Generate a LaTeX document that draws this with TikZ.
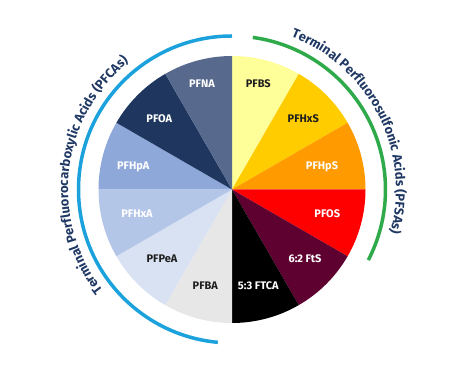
\documentclass[tikz,border=0pt]{standalone}
\usepackage{fontspec}
\setmainfont{Fira Sans}
\usetikzlibrary{decorations.text}
\definecolor{cNA}{HTML}{576A8E}
\definecolor{cOA}{HTML}{1F375F}
\definecolor{cHpA}{HTML}{8EA8DA}
\definecolor{cHxA}{HTML}{B4C6E7}
\definecolor{cPeA}{HTML}{D9E2F3}
\definecolor{cBA}{HTML}{E7E7E7}
\definecolor{cFTCA}{HTML}{000000}
\definecolor{cFtS}{HTML}{5E0030}
\definecolor{cOS}{HTML}{FF0000}
\definecolor{cHpS}{HTML}{FF9A00}
\definecolor{cHxS}{HTML}{FFCC00}
\definecolor{cBS}{HTML}{FFFF99}
\definecolor{navy}{HTML}{1F3864}
\definecolor{darktxt}{HTML}{1E1E1E}
\definecolor{bluearc}{HTML}{1BA1DB}
\definecolor{greenarc}{HTML}{2EAA4A}
\tikzset{
  lbl/.style={font=\fontsize{11}{13}\selectfont\bfseries, inner sep=0pt},
  lw/.style={lbl, text=white},
  ld/.style={lbl, text=darktxt},
  grouparc/.style={line width=3.5pt},
}
\newcommand{\wedgeR}{133.5}
\begin{document}
\begin{tikzpicture}[x=1pt,y=1pt]
\useasboundingbox (0,0) rectangle (474,379);
\coordinate (c) at (232,189.5);
% wedges
\foreach \a/\col in {90/cBS,60/cHxS,30/cHpS,0/cOS,-30/cFtS,-60/cFTCA,-90/cBA,-120/cPeA,-150/cHxA,180/cHpA,150/cOA,120/cNA}{
  \fill[\col] (c) -- ++(\a:\wedgeR) arc[start angle=\a, end angle=\a-30, radius=\wedgeR] -- cycle;
}
% labels
\node[lw] (nNA) at (202,295) {PFNA};
\node[ld] (nBS) at (258.3,295) {PFBS};
\node[lw] (nOA) at (159.3,260) {PFOA};
\node[ld] (nHxS) at (303.3,260) {PFHxS};
\node[lw] (nHpA) at (133.3,212.3) {PFHpA};
\node[lw] (nHpS) at (322,212.3) {PFHpS};
\node[lw] (nHxA) at (137,165.7) {PFHxA};
\node[lw] (nOS) at (327.3,165.7) {PFOS};
\node[ld] (nPeA) at (162,120.7) {PFPeA};
\node[lw] (nFtS) at (305,120.7) {6:2 FtS};
\node[ld] (nBA) at (205.3,93.3) {PFBA};
\node[lw] (nFTCA) at (258.3,93.3) {5:3 FTCA};
% group arcs
\draw[grouparc, bluearc] (c) ++(90:153.5) arc[start angle=90, end angle=264.7, radius=153.5];
\draw[grouparc, greenarc] (c) ++(82.2:153.5) arc[start angle=82.2, end angle=-27.4, radius=153.5];
% curved titles
\path[decorate, decoration={text along path, text align=center, text color=navy,
  text={|\fontsize{13}{15}\selectfont\bfseries|Terminal Perfluorocarboxylic Acids (PFCAs)}}]
  (c) ++(233.5:164) arc[start angle=233.5, end angle=113.5, radius=164];
\path[decorate, decoration={text along path, text align=center, text color=navy,
  text={|\fontsize{13}{15}\selectfont\bfseries|Terminal Perfluorosulfonic Acids (PFSAs)}}]
  (c) ++(86.8:164) arc[start angle=86.8, end angle=-33.2, radius=164];
\end{tikzpicture}
\end{document}
